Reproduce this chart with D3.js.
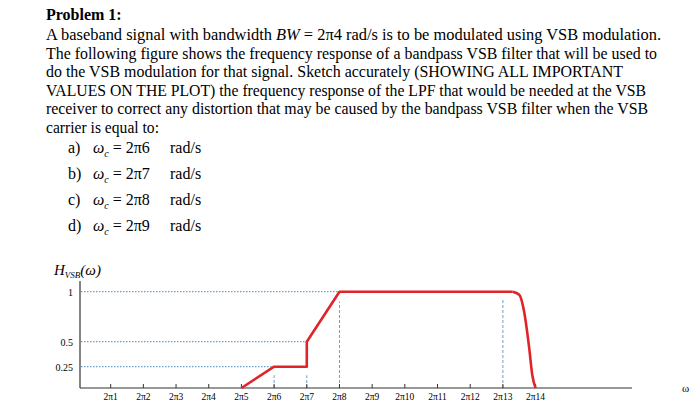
<!DOCTYPE html><html><head><meta charset="utf-8"><script src="https://cdn.jsdelivr.net/npm/d3@7"></script>
<style>body{margin:0;background:#fff}</style></head><body><svg id="c" width="700" height="412"></svg>
<script>
const paragraph = [
 ["A baseband signal with bandwidth ", "BW", " = 2π4", "   rad/s is to be modulated using VSB modulation."],
 "The following figure shows the frequency response of a bandpass VSB filter that will be used to",
 "do the VSB modulation for that signal. Sketch accurately (SHOWING ALL IMPORTANT",
 "VALUES ON THE PLOT) the frequency response of the LPF that would be needed at the VSB",
 "receiver to correct any distortion that may be caused by the bandpass VSB filter when the VSB",
 "carrier is equal to:"];
const lineWidths = [615, 611, 577, 600, 602, 113];
const options = ["a)", "b)", "c)", "d)"];
const carriers = ["2π6", "2π7", "2π8", "2π9"];
const tickVals = [1,2,3,4,5,6,7,8,9,10,11,12,13,14];
const yTicks = [1, 0.5, 0.25];
const curveX = [5, 6, 7, 7, 8, 13.3, 13.5, 13.65, 13.8, 13.9, 14];
const curveY = [0, 0.25, 0.25, 0.5, 1, 1, 0.97, 0.8, 0.45, 0.15, 0];
const hGuides = [[1, 8], [0.5, 7], [0.25, 6]];
const vGuides = [[6, 0.15], [7, 0.15], [8, 0.9], [13, 0.92]];

const svg = d3.select("#c");
const serif = "'Liberation Serif','Times New Roman',serif";
svg.append("text").attr("x",46).attr("y",20).attr("font-family",serif).attr("font-weight","bold").attr("font-size",16).text("Problem 1:");
paragraph.forEach((l,i)=>{
  const t = svg.append("text").attr("x",46).attr("y",40+i*18.6).attr("font-family",serif).attr("font-size",16)
   .attr("textLength",lineWidths[i]).attr("lengthAdjust","spacingAndGlyphs");
  if (Array.isArray(l)) {
    t.append("tspan").text(l[0]);
    t.append("tspan").attr("font-style","italic").text(l[1]);
    t.append("tspan").text(l[2]);
    t.append("tspan").text(l[3]);
  } else t.text(l);
});
options.forEach((o,i)=>{
  const y = 153 + i*26;
  svg.append("text").attr("x",68).attr("y",y).attr("font-family",serif).attr("font-size",16).text(o);
  const t = svg.append("text").attr("x",93).attr("y",y).attr("font-family",serif).attr("font-size",16);
  t.append("tspan").attr("font-style","italic").text("ω");
  t.append("tspan").attr("font-style","italic").attr("font-size",10).attr("dy",4).text("c");
  t.append("tspan").attr("dy",-4).text(" = " + carriers[i]);
  svg.append("text").attr("x",170).attr("y",y).attr("font-family",serif).attr("font-size",16).text("rad/s");
});

const x = d3.scaleLinear().domain([0,16.95]).range([78,632]);
const y = d3.scaleLinear().domain([0,0.25,0.5,1]).range([388,366.7,341.7,291.7]);
const blue = "#6a9fd0";
hGuides.forEach(([v,xe])=>svg.append("line").attr("x1",x(0)+3).attr("x2",x(xe)).attr("y1",y(v)).attr("y2",y(v))
  .attr("stroke",blue).attr("stroke-width",1.2).attr("stroke-dasharray","1.5,1.5"));
vGuides.forEach(([xv,v])=>svg.append("line").attr("x1",x(xv)).attr("x2",x(xv)).attr("y1",y(0)).attr("y2",y(v))
  .attr("stroke",blue).attr("stroke-width",1).attr("stroke-dasharray","3,2"));
svg.append("line").attr("x1",80).attr("x2",80).attr("y1",281).attr("y2",388).attr("stroke","#333").attr("stroke-width",1.2);
svg.append("line").attr("x1",80).attr("x2",632).attr("y1",388).attr("y2",388).attr("stroke","#333").attr("stroke-width",1.2);
tickVals.forEach(v=>{
  svg.append("line").attr("x1",x(v)).attr("x2",x(v)).attr("y1",384).attr("y2",388).attr("stroke","#333");
  svg.append("text").attr("x",x(v)).attr("y",400).attr("text-anchor","middle").attr("font-family",serif).attr("font-size",9.5).text("2π"+v);
});
yTicks.forEach(v=>svg.append("text").attr("x",73).attr("y",y(v)+4).attr("text-anchor","end").attr("font-family",serif).attr("font-size",10).text(v));
svg.append("text").attr("x",682).attr("y",392).attr("font-family",serif).attr("font-size",11).text("ω");
const h = svg.append("text").attr("x",54).attr("y",275).attr("font-family",serif).attr("font-size",15).attr("font-style","italic");
h.append("tspan").text("H");
h.append("tspan").attr("font-size",9).attr("dy",3).text("VSB");
h.append("tspan").attr("dy",-3).text("(ω)");
const pts = curveX.map((v,i)=>[v,curveY[i]]);
const straight = pts.slice(0,6), tail = pts.slice(5);
svg.append("path").attr("d",d3.line().x(d=>x(d[0])).y(d=>y(d[1]))(straight)).attr("fill","none").attr("stroke","#e0242a").attr("stroke-width",2.6).attr("stroke-linejoin","round");
svg.append("path").attr("d",d3.line().x(d=>x(d[0])).y(d=>y(d[1])).curve(d3.curveMonotoneX)(tail)).attr("fill","none").attr("stroke","#e0242a").attr("stroke-width",2.6);
</script></body></html>
